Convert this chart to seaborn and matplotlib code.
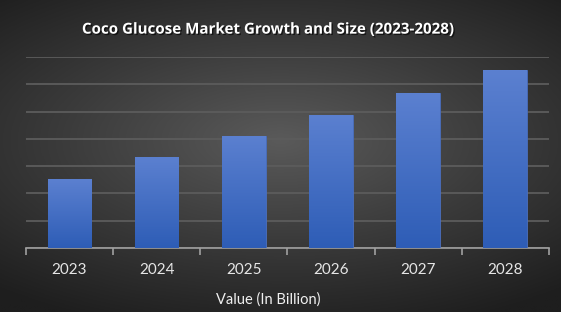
import numpy as np
import pandas as pd
import matplotlib
matplotlib.use("Agg")
import matplotlib.pyplot as plt
import matplotlib.patheffects as pe
import seaborn as sns

years = ["2023", "2024", "2025", "2026", "2027", "2028"]
values = [2.52, 3.33, 4.11, 4.89, 5.67, 6.52]
title = "Coco Glucose Market Growth and Size (2023-2028)"
xlabel = "Value (In Billion)"

sns.set_theme(style="dark")
plt.rcParams["font.family"] = ["Lato", "DejaVu Sans"]

df = pd.DataFrame({"year": years, "value": values})

fig = plt.figure(figsize=(5.61, 3.12), dpi=100)

# radial gradient background
bg = fig.add_axes([0, 0, 1, 1], zorder=0)
yy, xx = np.mgrid[-1:1:300j, -1:1:540j]
r = np.sqrt((xx * 0.9) ** 2 + ((yy + 0.1) * 1.1) ** 2)
bg.imshow(np.clip(r, 0, 1.4), cmap=matplotlib.colors.LinearSegmentedColormap.from_list(
    "bg", ["#5a5a5a", "#3b3b3b", "#1e1e1e"]), vmin=0, vmax=1.4,
    aspect="auto", extent=[0, 1, 0, 1])
bg.set_axis_off()

ax = fig.add_axes([0.0463, 0.205, 0.932, 0.612], zorder=1)
ax.patch.set_alpha(0)
sns.barplot(data=df, x="year", y="value", color="#3a66c0", width=0.5, ax=ax, zorder=3)

# vertical gradient inside each bar
grad = np.linspace(0, 1, 100).reshape(-1, 1)
bar_cmap = matplotlib.colors.LinearSegmentedColormap.from_list("bar", ["#2e5db6", "#5b80d0"])
for p in ax.patches:
    x0, y0 = p.get_x(), p.get_y()
    w, h = p.get_width(), p.get_height()
    im = ax.imshow(grad, cmap=bar_cmap, aspect="auto", origin="lower",
                   extent=[x0, x0 + w, y0, y0 + h], zorder=4)
    im.set_clip_path(p)
    p.set_edgecolor("#4a6fbf")
    p.set_linewidth(0.6)

ax.set_xlim(-0.5, 5.5)
ax.set_ylim(0, 7)
ax.set_yticks(range(0, 8))
ax.set_yticklabels([])
ax.yaxis.grid(True, color="#5c5c5c", linewidth=1.3, zorder=0)
ax.tick_params(axis="y", length=0)

for s in ["top", "right", "left"]:
    ax.spines[s].set_visible(False)
ax.spines["bottom"].set_color("#a0a0a0")
ax.spines["bottom"].set_linewidth(1.2)

ax.set_xticks(np.arange(-0.5, 6, 1), minor=True)
ax.tick_params(axis="x", which="minor", length=5, color="#a0a0a0", width=1.2, bottom=True)
ax.tick_params(axis="x", which="major", length=0, pad=11, labelsize=11, labelcolor="#e6e6e6")

ax.set_xlabel("")
ax.set_ylabel("")
fig.text(0.478, 0.04, xlabel, ha="center", va="center", color="#f0f0f0", fontsize=10.5)

fig.text(0.477, 0.905, title, ha="center", va="center", color="white",
         fontsize=10.9, fontweight="bold", family=["Open Sans", "DejaVu Sans"],
         path_effects=[pe.withSimplePatchShadow(offset=(1, -1), shadow_rgbFace="black", alpha=0.6)])

fig.savefig("out.png", dpi=100)
